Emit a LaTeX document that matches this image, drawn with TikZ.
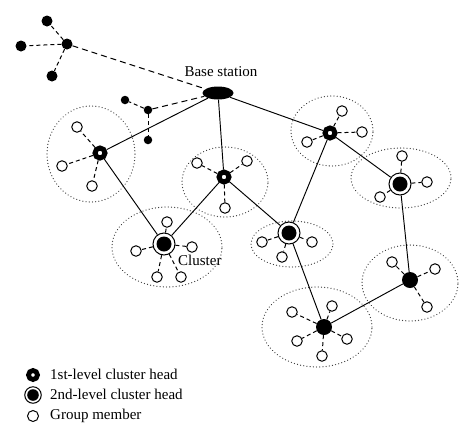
\documentclass[tikz,border=0pt]{standalone}
\usepackage{fontspec}
\setmainfont{Liberation Serif}
\usetikzlibrary{shapes.geometric}
\begin{document}
\begin{tikzpicture}[x=1pt,y=-1pt,
  member/.style={circle,draw=black,fill=white,line width=1pt,minimum size=10.5pt,inner sep=0pt},
  headone/.style={circle,draw=black,line width=5pt,fill=white,minimum size=10pt,inner sep=0pt},
  headtwo/.style={circle,draw=black,line width=1pt,fill=white,minimum size=22pt,inner sep=0pt,
    path picture={\fill[black] (path picture bounding box.center) circle (7.5pt);}},
  headzero/.style={circle,fill=black,minimum size=16pt,inner sep=0pt},
  dot/.style={circle,fill=black,minimum size=11pt,inner sep=0pt},
  smalldot/.style={circle,fill=black,minimum size=8.5pt,inner sep=0pt},
  bs/.style={ellipse,fill=black,minimum width=31pt,minimum height=13pt,inner sep=0pt},
  clusterring/.style={draw=black!75,line width=1.3pt,dash pattern=on 0.01pt off 3.2pt,line cap=round},
  link/.style={draw=black,line width=0.95pt},
  spoke/.style={draw=black,line width=1pt,dash pattern=on 4pt off 3pt},
  farlink/.style={draw=black,line width=1pt,dash pattern=on 6pt off 4pt},
  lbl/.style={font=\fontsize{15}{18}\selectfont,inner sep=0pt}
]
\useasboundingbox (0,0) rectangle (474,440);
% cluster outlines
\draw[clusterring] (91,154) ellipse [x radius=44pt, y radius=48pt];
\draw[clusterring] (225,182) ellipse [x radius=43pt, y radius=35pt];
\draw[clusterring] (167,247) ellipse [x radius=55pt, y radius=40pt];
\draw[clusterring] (332,131) ellipse [x radius=41pt, y radius=35pt];
\draw[clusterring] (401,178) ellipse [x radius=50pt, y radius=30pt];
\draw[clusterring] (292,244) ellipse [x radius=41pt, y radius=23pt];
\draw[clusterring] (410,283) ellipse [x radius=48pt, y radius=38pt];
\draw[clusterring] (317,327) ellipse [x radius=55pt, y radius=40pt];

% base station
\node[bs] (base) at (218,93) {};
\node[lbl] (baselbl) at (221,72) {Base station};

% top-left group
\node[dot] (tlh) at (67,44) {};
\node[dot] (tla) at (47,21) {};
\node[dot] (tlb) at (21,46) {};
\node[dot] (tlc) at (52,76) {};
% small group
\node[smalldot] (sgh) at (148,110) {};
\node[smalldot] (sga) at (125,100) {};
\node[smalldot] (sgb) at (148,140) {};

% heads
\node[headone] (c1) at (100,153) {};
\node[headone] (c2) at (224,177) {};
\node[headtwo] (c3) at (164,244) {};
\node[headone] (c4) at (330,133) {};
\node[headtwo] (c5) at (400,184) {};
\node[headtwo] (c6) at (289,233) {};
\node[headzero] (c7) at (410,280) {};
\node[headzero] (c8) at (324,327) {};

% members
\node[member] (c1a) at (77,127) {};
\node[member] (c1b) at (62,166) {};
\node[member] (c1c) at (92,186) {};
\node[member] (c2a) at (197,163) {};
\node[member] (c2b) at (247,161) {};
\node[member] (c2c) at (225,208) {};
\node[member] (c3a) at (167,222) {};
\node[member] (c3b) at (136,251) {};
\node[member] (c3c) at (192,247) {};
\node[member] (c3d) at (157,277) {};
\node[member] (c3e) at (181,277) {};
\node[member] (c4a) at (342,111) {};
\node[member] (c4b) at (362,132) {};
\node[member] (c4c) at (307,142) {};
\node[member] (c5a) at (402,156) {};
\node[member] (c5b) at (427,182) {};
\node[member] (c5c) at (380,197) {};
\node[member] (c6a) at (262,242) {};
\node[member] (c6b) at (312,242) {};
\node[member] (c6c) at (282,257) {};
\node[member] (c7a) at (392,262) {};
\node[member] (c7b) at (435,269) {};
\node[member] (c7c) at (427,307) {};
\node[member] (c8a) at (292,312) {};
\node[member] (c8b) at (332,306) {};
\node[member] (c8c) at (297,341) {};
\node[member] (c8d) at (347,339) {};
\node[member] (c8e) at (322,356) {};

\node[lbl,anchor=west] (clbl) at (178,260) {Cluster};

% far dashed links
\draw[farlink] (tlh) -- (base);
\draw[farlink] (sgh) -- (base);
\draw[spoke] (tlh) -- (tla);
\draw[spoke] (tlh) -- (tlb);
\draw[spoke] (tlh) -- (tlc);
\draw[spoke] (sgh) -- (sga);
\draw[spoke] (sgh) -- (sgb);

% backbone links
\draw[link] (base) -- (c1);
\draw[link] (base) -- (c2);
\draw[link] (base) -- (c4);
\draw[link] (c1) -- (c3);
\draw[link] (c2) -- (c3);
\draw[link] (c2) -- (c6);
\draw[link] (c4) -- (c6);
\draw[link] (c4) -- (c5);
\draw[link] (c5) -- (c7);
\draw[link] (c6) -- (c8);
\draw[link] (c8) -- (c7);

% spokes
\foreach \h/\m in {c1/c1a,c1/c1b,c1/c1c,c2/c2a,c2/c2b,c2/c2c,c3/c3a,c3/c3b,c3/c3c,c3/c3d,c3/c3e,
  c4/c4a,c4/c4b,c4/c4c,c5/c5a,c5/c5b,c5/c5c,c6/c6a,c6/c6b,c6/c6c,c7/c7a,c7/c7b,c7/c7c,
  c8/c8a,c8/c8b,c8/c8c,c8/c8d,c8/c8e}
  \draw[spoke] (\h) -- (\m);

% legend
\node[headone,minimum size=9pt,line width=4.8pt] (lg1) at (33,375) {};
\node[headtwo,minimum size=16.5pt,path picture={\fill[black] (path picture bounding box.center) circle (5.8pt);}] (lg2) at (33,395) {};
\node[member,minimum size=11pt] (lg3) at (33,416) {};
\node[lbl,anchor=west] (lt1) at (50,374) {1st-level cluster head};
\node[lbl,anchor=west] (lt2) at (50,394) {2nd-level cluster head};
\node[lbl,anchor=west] (lt3) at (50,416) {Group member};
\end{tikzpicture}
\end{document}
